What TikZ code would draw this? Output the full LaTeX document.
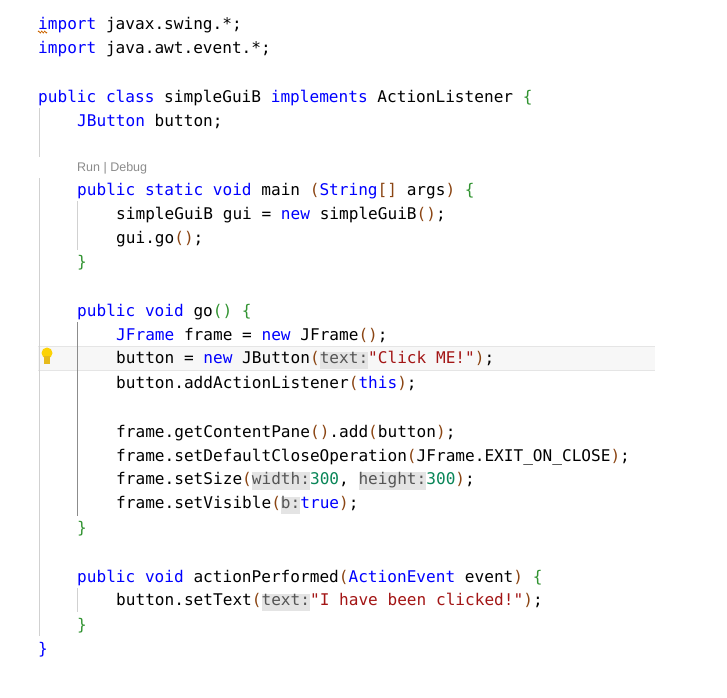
\documentclass[tikz,border=0pt]{standalone}
\usepackage{fontspec}
\setmonofont{DejaVu Sans Mono}
\setsansfont{Liberation Sans}
\usetikzlibrary{decorations.pathmorphing}
\definecolor{kwc}{HTML}{0000FF}
\definecolor{brc}{HTML}{8B4513}
\definecolor{bgc}{HTML}{319331}
\definecolor{stc}{HTML}{A31515}
\definecolor{nmc}{HTML}{098658}
\definecolor{hbg}{HTML}{E4E4E4}
\definecolor{htx}{HTML}{555555}
\definecolor{txc}{HTML}{000000}
\newcommand{\kw}[1]{\textcolor{kwc}{#1}}
\newcommand{\pr}[1]{\textcolor{brc}{#1}}
\newcommand{\bg}[1]{\textcolor{bgc}{#1}}
\newcommand{\sq}[1]{\textcolor{stc}{#1}}
\newcommand{\nm}[1]{\textcolor{nmc}{#1}}
\newcommand{\hn}[1]{{\setlength{\fboxsep}{0pt}\colorbox{hbg}{\strut\textcolor{htx}{#1}}}}
\tikzset{code/.style={anchor=west,inner sep=0pt,font=\ttfamily\fontsize{16.1}{16}\selectfont,text=txc,yshift=-2pt},
guide/.style={draw=black!18,line width=1pt},
guideact/.style={draw=black!45,line width=1pt}}
\begin{document}
\begin{tikzpicture}[x=1pt,y=-1pt]
\useasboundingbox[fill=white] (0,0) rectangle (727,697);
% current line highlight
\fill[black!3] (38,346) rectangle (655,370);
\draw[black!10] (38,346) -- (655,346);
\draw[black!10] (38,370) -- (655,370);
% guides
\draw[guide] (39,108) -- (39,157);
\draw[guide] (39,178) -- (39,636);
\draw[guide] (77,201) -- (77,250);
\draw[guideact] (77,322) -- (77,516);
\draw[guide] (77,588) -- (77,612);
% squiggle
\draw[orange!80!black,line width=0.7pt,decorate,decoration={zigzag,amplitude=1pt,segment length=3pt}] (38,32) -- (47,32);
% bulb
\fill[yellow!70!orange] (47,353) circle (5.5);
\fill[yellow!60!orange!90!black] (44,356) rectangle (50,364);
\node[code] (l1) at (38,23) {\kw{import} javax.swing.*;};
\node[code] (l2) at (38,47) {\kw{import} java.awt.event.*;};
\node[code] (l4) at (38,96) {\kw{public} \kw{class} simpleGuiB \kw{implements} ActionListener \bg{\{}};
\node[code] (l5) at (77,120) {\kw{JButton} button;};
\node[anchor=west,inner sep=0pt,font=\sffamily\fontsize{12.5}{12}\selectfont,text=black!45] (rd) at (77,168) {Run | Debug};
\node[code] (l7) at (77,189) {\kw{public} \kw{static} \kw{void} main \pr{(}\kw{String}\pr{[]} args\pr{)} \bg{\{}};
\node[code] (l8) at (116,213) {simpleGuiB gui = \kw{new} simpleGuiB\pr{()};};
\node[code] (l9) at (116,237) {gui.go\pr{()};};
\node[code] (l10) at (77,261) {\bg{\}}};
\node[code] (l12) at (77,310) {\kw{public} \kw{void} go\bg{()} \bg{\{}};
\node[code] (l13) at (116,334) {\kw{JFrame} frame = \kw{new} JFrame\pr{()};};
\node[code] (l14) at (116,358) {button = \kw{new} JButton\pr{(}\hn{text:}\sq{"Click ME!"}\pr{)};};
\node[code] (l15) at (116,382) {button.addActionListener\pr{(}\kw{this}\pr{)};};
\node[code] (l17) at (116,431) {frame.getContentPane\pr{()}.add\pr{(}button\pr{)};};
\node[code] (l18) at (116,455) {frame.setDefaultCloseOperation\pr{(}JFrame.EXIT\_ON\_CLOSE\pr{)};};
\node[code] (l19) at (116,479) {frame.setSize\pr{(}\hn{width:}\nm{300}, \hn{height:}\nm{300}\pr{)};};
\node[code] (l20) at (116,503) {frame.setVisible\pr{(}\hn{b:}\kw{true}\pr{)};};
\node[code] (l21) at (77,527) {\bg{\}}};
\node[code] (l23) at (77,576) {\kw{public} \kw{void} actionPerformed\pr{(}\kw{ActionEvent} event\pr{)} \bg{\{}};
\node[code] (l24) at (116,600) {button.setText\pr{(}\hn{text:}\sq{"I have been clicked!"}\pr{)};};
\node[code] (l25) at (77,624) {\bg{\}}};
\node[code] (l26) at (38,648) {\kw{\}}};
\end{tikzpicture}
\end{document}
